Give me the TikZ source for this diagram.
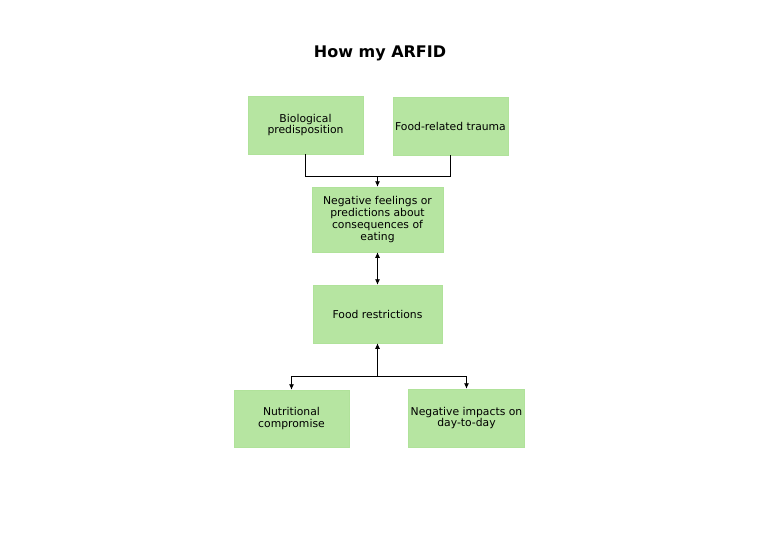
\documentclass[tikz,border=0pt]{standalone}
\usepackage{fontspec}
\setmainfont{DejaVu Sans}
\usepackage{tikz}
\usetikzlibrary{arrows.meta,positioning,calc}
\definecolor{leaf}{HTML}{B6E5A1}
\definecolor{leafedge}{HTML}{B0E29A}

\begin{document}
\begin{tikzpicture}[x=1pt,y=-1pt,
  font=\fontsize{10.8}{11.7}\selectfont,
  box/.style={draw=leafedge, fill=leaf, align=center, inner sep=2pt, minimum width=115pt, minimum height=58pt, line width=0.5pt},
  arr/.style={-{Latex[length=5.5pt,width=5pt]}, line width=0.8pt}]
\useasboundingbox[fill=white] (0,0) rectangle (768,543);
% ----- title
\node[font=\fontsize{16}{18}\selectfont\bfseries] (title) at (380,53) {How my ARFID};
% ----- causes
\node[box] (bio) at (305.5,125) {Biological\\predisposition};
\node[box] (trauma) at (450.5,126) {Food-related trauma};
% ----- cycle
\node[box, minimum width=131pt, minimum height=65pt] (neg) at (377.5,219.5) {Negative feelings or\\predictions about\\consequences of\\eating};
\node[box, minimum width=129pt] (food) at (377.5,314) {Food restrictions};
% ----- effects
\node[box, minimum height=57pt] (nutr) at (291.5,418.5) {Nutritional\\compromise};
\node[box] (impact) at (466.5,418) {Negative impacts on\\day-to-day};
\coordinate (meet) at (377.5,176);
\coordinate (split) at (377.5,376);
\draw[line width=0.8pt] (bio.south) |- (meet);
\draw[line width=0.8pt] (trauma.south) |- (meet);
\draw[arr] (meet) -- (neg.north);
\draw[arr, {Latex[length=5.5pt,width=5pt]}-{Latex[length=5.5pt,width=5pt]}] (neg.south) -- (food.north);
\draw[arr] (split) -- (food.south);
\draw[arr] (split) -| (nutr.north);
\draw[arr] (split) -| (impact.north);
\end{tikzpicture}
\end{document}
